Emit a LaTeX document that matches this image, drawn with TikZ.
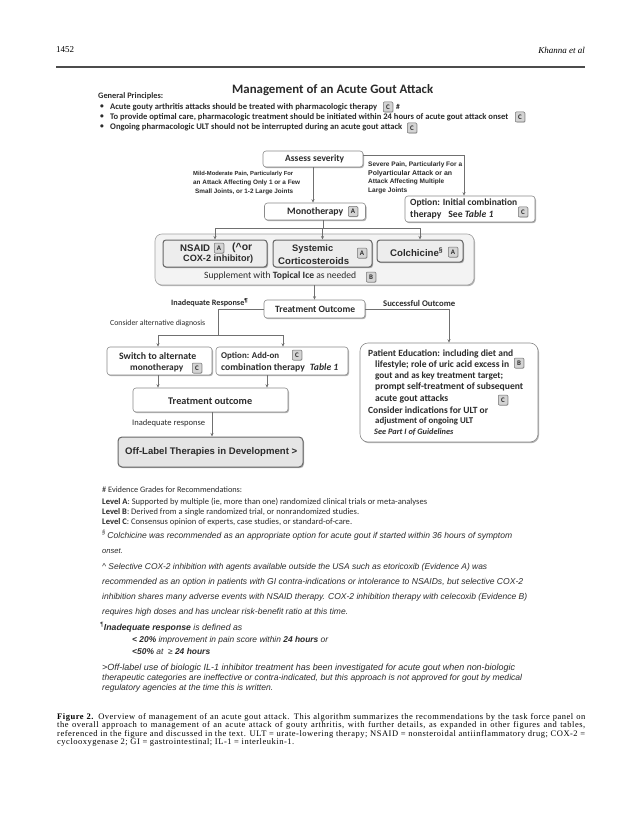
\documentclass[tikz,border=0pt]{standalone}
\usepackage{fontspec}
\usepackage{xfp}
\setmainfont{Liberation Serif}
\newfontfamily\calfont{Carlito}
\newfontfamily\arifont{Liberation Sans}
\newfontfamily\capfont[LetterSpace=6]{Liberation Serif}
\usetikzlibrary{arrows.meta,shadows}
\definecolor{txt}{HTML}{2B2B2B}
\definecolor{bord}{HTML}{8A8A8A}
\definecolor{grpfill}{HTML}{F3F3F3}
\definecolor{badgefill}{HTML}{D4D4D4}
\definecolor{arrc}{HTML}{707070}
\definecolor{dfill}{HTML}{EDEDED}
\newcommand\myfs[1]{\fontsize{#1}{#1}\selectfont}
\newlength\fitlen
\newcommand\fitfs[2]{\settowidth\fitlen{\fontsize{10}{12}\selectfont #2}\fontsize{\fpeval{round(10*#1/\fitlen,3)}}{12}\selectfont #2}
\tikzset{
  every node/.style={inner sep=0pt, text=txt},
  sz/.style 2 args={minimum width=#1pt, minimum height=#2pt},
  cal/.style={font=\calfont\myfs{#1}},
  calb/.style={font=\calfont\bfseries\myfs{#1}},
  arib/.style={font=\arifont\bfseries\myfs{#1}},
  arii/.style={font=\arifont\itshape\myfs{#1}},
  shad/.style={drop shadow={shadow xshift=1pt, shadow yshift=-1.2pt, opacity=0.3, fill=black}},
  box/.style={draw=bord, line width=0.6pt, rounded corners=3pt, fill=white, shad},
  dbox/.style={draw=black!60, line width=1pt, rounded corners=3pt, fill=dfill, shad},
  grp/.style={draw=bord!80, line width=0.6pt, rounded corners=7pt, fill=grpfill, shad},
  obox/.style={draw=black!60, line width=1pt, rounded corners=4pt, fill=black!10, shad},
  badge/.style={draw=black!55, fill=badgefill, rounded corners=1pt, minimum width=9.5pt, minimum height=10pt, font=\calfont\bfseries\myfs{7}, line width=0.5pt, drop shadow={shadow xshift=0.6pt, shadow yshift=-0.6pt, opacity=0.3, fill=black}},
  ln/.style={draw=arrc, line width=0.6pt},
  arr/.style={ln, -{Stealth[length=3.5pt,width=3pt]}},
  captext/.style={anchor=west, font=\capfont\fontsize{\capsz}{12}\selectfont, text=black},
}
\begin{document}
\settowidth\fitlen{\capfont\fontsize{10}{12}\selectfont cyclooxygenase 2; GI = gastrointestinal; IL-1 = interleukin-1.}%
\xdef\capsz{\fpeval{round(10*237/\fitlen,3)}}%
\begin{tikzpicture}[x=1pt,y=-1pt]
\useasboundingbox (0,0) rectangle (638,826);
\fill[white] (0,0) rectangle (638,826);

% header
\node[anchor=west, font=\myfs{9}, text=black] (pg) at (56,50) {1452};
\node[anchor=east, font=\myfs{9}\itshape, text=black] (auth) at (585,50) {Khanna et al};
\coordinate (rl) at (56,67);
\coordinate (rr) at (585,67);
\draw[line width=1.2pt, black!70] (rl) -- (rr);

% title and principles
\node[calb=12, anchor=west] (title) at (232,90) {\fitfs{201}{Management of an Acute Gout Attack}};
\node[calb=7, anchor=west] (gp) at (98,96) {\fitfs{65}{General Principles:}};
\node[calb=7.5] (d1) at (102,107) {•};
\node[calb=7.5] (d2) at (102,117) {•};
\node[calb=7.5] (d3) at (102,127) {•};
\node[calb=7.5, anchor=west] (p1) at (110,107) {\fitfs{267}{Acute gouty arthritis attacks should be treated with pharmacologic therapy}};
\node[badge] (bp1) at (388,107) {C};
\node[calb=7.5, anchor=west] (hash) at (396,107) {\#};
\node[calb=7.5, anchor=west] (p2) at (110,117) {\fitfs{398}{To provide optimal care, pharmacologic treatment should be initiated within 24 hours of acute gout attack onset}};
\node[badge] (bp2) at (520,117) {C};
\node[calb=7.5, anchor=west] (p3) at (110,127) {\fitfs{292}{Ongoing pharmacologic ULT should not be interrupted during an acute gout attack}};
\node[badge] (bp3) at (412,128) {C};

% assess / mono / option
\node[box, sz={100}{16}] (assess) at (313,159) {};
\node[calb=8.5, anchor=west] (assesst) at (285,159) {\fitfs{59}{Assess severity}};
\node[box, sz={101}{17}] (mono) at (315,211.5) {};
\node[calb=8.5, anchor=west] (monot) at (287,211.5) {\fitfs{56}{Monotherapy}};
\node[badge] (bmono) at (353,211.5) {A};
\node[box, sz={130}{26}] (optinit) at (470,209) {};
\node[calb=8.5, anchor=west] (oi1) at (410,203) {\fitfs{107}{Option: Initial combination}};
\node[calb=8.5, anchor=west] (oi2) at (410,215) {\fitfs{83}{therapy\hspace{7pt}See \textit{Table 1}}};
\node[badge] (boi) at (523,212) {C};

\node[arib=5.2, anchor=west] (mm1) at (193,174) {\fitfs{100}{Mild-Moderate Pain, Particularly For}};
\node[arib=5.2, anchor=west] (mm2) at (193,183) {\fitfs{107}{an Attack Affecting Only 1 or a Few}};
\node[arib=5.2, anchor=west] (mm3) at (195,192) {\fitfs{98}{Small Joints, or 1-2 Large Joints}};
\node[arib=5.2, anchor=west] (sv1) at (368,165) {\fitfs{94}{Severe Pain, Particularly For a}};
\node[arib=5.2, anchor=west] (sv2) at (368,173.5) {\fitfs{84}{Polyarticular Attack or an}};
\node[arib=5.2, anchor=west] (sv3) at (368,182) {\fitfs{76}{Attack Affecting Multiple}};
\node[arib=5.2, anchor=west] (sv4) at (368,190.5) {\fitfs{39}{Large Joints}};

\draw[arr] (assess.south) -- (assess.south |- mono.north);
\draw[arr] ([yshift=4pt]assess.east) -| ([xshift=-6pt]optinit.north);

% group
\coordinate (barc) at (323,228);
\node[grp, sz={319}{51}] (grp) at (314.5,259.5) {};
\node[dbox, sz={104}{27}] (nsaid) at (215,253.5) {};
\node[dbox, sz={99}{27}] (syst) at (322.5,253.5) {};
\node[dbox, sz={86}{22}] (colch) at (420,251) {};
\draw[ln] (mono.south -| barc) -- (barc);
\draw[ln] (nsaid.north |- barc) -- (colch.north |- barc);
\draw[arr] (nsaid.north |- barc) -- (nsaid.north);
\draw[arr] (syst.north |- barc) -- (syst.north);
\draw[arr] (colch.north |- barc) -- (colch.north);

\node[arib=8, anchor=west] (ns1) at (180,248) {\fitfs{30}{NSAID}};
\node[badge] (bns) at (219,248) {A};
\node[arib=8, anchor=west] (ns1b) at (232,248) {\fitfs{20}{(\textasciicircum or}};
\node[arib=8, anchor=west] (ns2) at (183,259.5) {\fitfs{70}{COX-2 inhibitor)}};
\node[arib=8, anchor=west] (sy1) at (292,249) {\fitfs{41}{Systemic}};
\node[arib=8, anchor=west] (sy2) at (278,261) {\fitfs{71}{Corticosteroids}};
\node[badge] (bsy) at (362,253) {A};
\node[arib=8, anchor=west] (co) at (390,252) {\fitfs{53}{Colchicine\textsuperscript{\S}}};
\node[badge] (bco) at (453,252) {A};
\node[cal=8, anchor=west] (sup1) at (204,276) {\fitfs{152}{Supplement with \textbf{Topical Ice} as needed}};
\node[badge] (bsup) at (371,277) {B};

% treatment outcome
\node[box, sz={101}{18}] (tout) at (314.5,309) {};
\node[calb=8.5, anchor=west] (toutt) at (275,309) {\fitfs{80}{Treatment Outcome}};
\draw[arr] (grp.south) -- (tout.north);
\node[calb=7, anchor=west] (inadr) at (171,303) {\fitfs{77}{Inadequate Response\textsuperscript{¶}}};
\node[calb=7, anchor=west] (succ) at (383,303) {\fitfs{72}{Successful Outcome}};
\node[cal=7, anchor=west] (cad) at (110,323) {\fitfs{95}{Consider alternative diagnosis}};

\node[box, sz={105}{28}] (switch) at (159.5,361) {};
\node[calb=8, anchor=west] (sw1) at (119,356) {\fitfs{77}{Switch to alternate}};
\node[calb=8, anchor=west] (sw2) at (130,368) {\fitfs{53}{monotherapy}};
\node[badge] (bsw) at (197,368) {C};
\node[box, sz={132}{28}] (addon) at (282,361) {};
\node[calb=8, anchor=west] (ad1) at (221,356) {\fitfs{58}{Option: Add-on}};
\node[badge] (bad) at (297,355) {C};
\node[calb=8, anchor=west] (ad2) at (221,368) {\fitfs{117}{combination therapy\hspace{5pt}\textit{Table 1}}};

\coordinate (lk) at (218,335);
\draw[ln] (tout.west) -| (lk);
\draw[ln] ([xshift=-1.5pt]switch.north |- lk) -- ([xshift=1pt]addon.north |- lk);
\draw[arr] ([xshift=-1.5pt]switch.north |- lk) -- ([xshift=-1.5pt]switch.north);
\draw[arr] ([xshift=1pt]addon.north |- lk) -- ([xshift=1pt]addon.north);

% patient education
\node[box, rounded corners=8pt, sz={178}{99}] (pated) at (449,392.5) {};
\draw[arr] (tout.east) -| (pated.north);
\node[calb=8, anchor=west] (pe1) at (368,354) {\fitfs{145}{Patient Education: including diet and}};
\node[calb=8, anchor=west] (pe2) at (375,365) {\fitfs{134}{lifestyle; role of uric acid excess in}};
\node[calb=8, anchor=west] (pe3) at (375,376) {\fitfs{128}{gout and as key treatment target;}};
\node[calb=8, anchor=west] (pe4) at (375,387) {\fitfs{148}{prompt self-treatment of subsequent}};
\node[calb=8, anchor=west] (pe5) at (375,399) {\fitfs{73}{acute gout attacks}};
\node[calb=8, anchor=west] (pe6) at (368,410) {\fitfs{120}{Consider indications for ULT or}};
\node[calb=8, anchor=west] (pe7) at (375,421) {\fitfs{98}{adjustment of ongoing ULT}};
\node[font=\calfont\bfseries\itshape\myfs{8.3}, anchor=west] (pe8) at (374,432) {See Part I of Guidelines};
\node[badge] (bpe1) at (519,363) {B};
\node[badge] (bpe2) at (503,400) {C};

% second outcome
\node[box, sz={155}{24}] (tout2) at (210.5,400) {};
\node[calb=8.5, anchor=west] (tout2t) at (168,401) {\fitfs{84}{Treatment outcome}};
\draw[arr] ([xshift=-1.5pt]switch.south) -- ([xshift=-1.5pt]switch.south |- tout2.north);
\draw[arr] ([xshift=-15pt]addon.south) -- ([xshift=-15pt]addon.south |- tout2.north);
\node[cal=6.5, anchor=west] (inr) at (132,423) {\fitfs{73}{Inadequate response}};
\node[obox, sz={185}{30}] (offl) at (210.5,452) {};
\node[arib=8.2, anchor=west] (offlt) at (125,452) {\fitfs{172}{Off-Label Therapies in Development >}};
\draw[arr] ([xshift=1.5pt]tout2.south) -- ([xshift=1.5pt]offl.north);

% footnotes
\node[cal=7.5, anchor=west] (f0) at (102,490) {\fitfs{140}{\# Evidence Grades for Recommendations:}};
\node[cal=7.5, anchor=west] (f1) at (102,502) {\fitfs{325}{\textbf{Level A}: Supported by multiple (ie, more than one) randomized clinical trials or meta-analyses}};
\node[cal=7.5, anchor=west] (f2) at (102,512) {\fitfs{257}{\textbf{Level B}: Derived from a single randomized trial, or nonrandomized studies.}};
\node[cal=7.5, anchor=west] (f3) at (102,522) {\fitfs{250}{\textbf{Level C}: Consensus opinion of experts, case studies, or standard-of-care.}};
\node[arii=7.6, anchor=west] (g1) at (102,535) {\fitfs{410}{\textsuperscript{\S}\,Colchicine was recommended as an appropriate option for acute gout if started within 36 hours of symptom}};
\node[arii=7.6, anchor=west] (g2) at (102,551) {onset.};
\node[arii=7.6, anchor=west] (h1) at (102,567) {\fitfs{385}{\textasciicircum\ Selective COX-2 inhibition with agents available outside the USA such as etoricoxib (Evidence A) was}};
\node[arii=7.6, anchor=west] (h2) at (102,582) {\fitfs{421}{recommended as an option in patients with GI contra-indications or intolerance to NSAIDs, but selective COX-2}};
\node[arii=7.6, anchor=west] (h3) at (102,597) {\fitfs{425}{inhibition shares many adverse events with NSAID therapy. COX-2 inhibition therapy with celecoxib (Evidence B)}};
\node[arii=7.6, anchor=west] (h4) at (102,612) {\fitfs{246}{requires high doses and has unclear risk-benefit ratio at this time.}};
\node[arii=7.6, anchor=west] (i1) at (100,627) {\fitfs{142}{\textsuperscript{¶}\textbf{Inadequate response} is defined as}};
\node[arii=7.6, anchor=west] (i2) at (132,640) {\fitfs{196}{\textbf{< 20\%} improvement in pain score within \textbf{24 hours} or}};
\node[arii=7.6, anchor=west] (i3) at (132,651) {\fitfs{78}{\textbf{<50\%} at\ \ ≥ \textbf{24 hours}}};
\node[arii=7.3, anchor=west] (j1) at (102,668) {\fitfs{413}{>Off-label use of biologic IL-1 inhibitor treatment has been investigated for acute gout when non-biologic}};
\node[arii=7.3, anchor=west] (j2) at (102,678) {\fitfs{420}{therapeutic categories are ineffective or contra-indicated, but this approach is not approved for gout by medical}};
\node[arii=7.3, anchor=west] (j3) at (102,688) {\fitfs{171}{regulatory agencies at the time this is written.}};

% caption
\node[captext] (c1) at (57,717) {\makebox[528pt][s]{\textbf{Figure 2.} Overview of management of an acute gout attack. This algorithm summarizes the recommendations by the task force panel on}};
\node[captext] (c2) at (57,725.5) {\makebox[528pt][s]{the overall approach to management of an acute attack of gouty arthritis, with further details, as expanded in other figures and tables,}};
\node[captext] (c3) at (57,734) {\makebox[528pt][s]{referenced in the figure and discussed in the text. ULT = urate-lowering therapy; NSAID = nonsteroidal antiinflammatory drug; COX-2 =}};
\node[captext] (c4) at (57,742.5) {cyclooxygenase 2; GI = gastrointestinal; IL-1 = interleukin-1.};
\end{tikzpicture}
\end{document}
